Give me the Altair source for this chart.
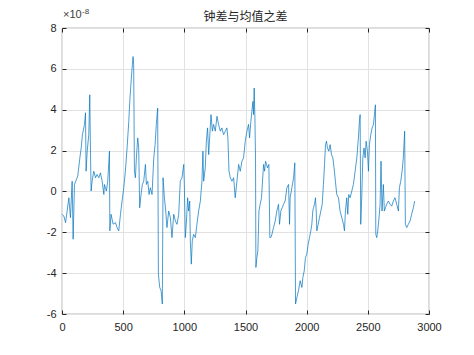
import altair as alt
import pandas as pd

# Epoch index (x) and clock-difference minus mean (units of 1e-8)
xs = [1, 15, 29, 42, 56, 69, 83, 91, 102, 118, 129, 146, 157, 167, 184, 192, 197, 206, 219, 227,
      233, 238, 246, 260, 274, 287, 301, 314, 328, 342, 347, 363, 374, 388, 391, 401, 418, 437, 450, 464,
      478, 491, 505, 518, 532, 546, 554, 565, 573, 581, 586, 592, 600, 608, 619, 627, 635, 646, 657, 668,
      682, 690, 701, 712, 722, 736, 750, 761, 771, 782, 788, 799, 810, 820, 826, 837, 848, 858, 872, 886,
      899, 913, 927, 940, 954, 967, 981, 995, 1000, 1008, 1016, 1027, 1035, 1044, 1049, 1057, 1065, 1076, 1090, 1103,
      1117, 1131, 1144, 1152, 1158, 1171, 1180, 1190, 1199, 1207, 1218, 1229, 1239, 1253, 1267, 1280, 1294, 1307, 1321, 1335,
      1348, 1356, 1365, 1376, 1389, 1403, 1416, 1430, 1444, 1457, 1471, 1484, 1498, 1512, 1525, 1533, 1544, 1552, 1561, 1566,
      1571, 1577, 1582, 1585, 1593, 1601, 1610, 1620, 1631, 1639, 1648, 1656, 1664, 1672, 1680, 1691, 1699, 1707, 1716, 1729,
      1743, 1756, 1770, 1778, 1789, 1800, 1811, 1824, 1838, 1852, 1860, 1865, 1879, 1893, 1903, 1909, 1920, 1933, 1947, 1961,
      1969, 1980, 1990, 2001, 2012, 2023, 2034, 2042, 2050, 2056, 2064, 2072, 2078, 2083, 2094, 2105, 2116, 2127, 2137, 2146,
      2154, 2162, 2170, 2181, 2192, 2203, 2214, 2224, 2235, 2246, 2260, 2273, 2287, 2301, 2309, 2317, 2328, 2336, 2344, 2355,
      2369, 2382, 2396, 2410, 2423, 2431, 2437, 2442, 2450, 2459, 2469, 2478, 2486, 2497, 2505, 2513, 2524, 2535, 2546, 2554,
      2562, 2565, 2573, 2581, 2589, 2600, 2608, 2616, 2627, 2635, 2644, 2654, 2668, 2682, 2695, 2709, 2722, 2736, 2750, 2758,
      2769, 2780, 2790, 2801, 2807, 2818, 2831, 2845, 2858, 2872, 2883]
ys = [-1.12, -1.20, -1.53, -0.96, -0.31, -1.28, 0.50, -2.34, 0.34, 0.59, 0.76, 1.64, 2.13, 2.78, 3.28, 3.85, 0.99, 1.97, 2.78, 4.73,
      1.80, 0.02, 0.50, 0.99, 0.67, 0.83, 0.67, 0.91, 0.50, -0.15, 0.34, 0.02, 0.50, 1.97, -1.93, -1.12, -1.60, -1.53, -1.77, -1.93,
      -1.12, -0.47, 0.18, 0.99, 2.13, 3.43, 4.41, 5.39, 6.04, 6.60, 6.20, 0.99, 0.67, 1.64, 2.62, 2.13, -0.80, -0.15, 0.34, 0.50,
      1.32, 0.34, 0.50, -0.15, 0.18, -0.15, 1.64, 2.29, 3.28, 4.08, -4.05, -4.70, -4.86, -5.51, 0.67, -0.31, -0.96, -1.77, -0.96, -1.28,
      -2.26, -1.12, -1.45, -1.61, -1.12, 0.50, 0.67, 1.32, 0.34, -2.26, -1.61, -0.31, -0.96, -0.47, -2.42, -3.56, -2.42, -2.10, -2.26, -1.61,
      -0.96, -0.47, 0.50, 1.97, 0.50, 1.15, 2.46, 3.11, 1.80, 2.62, 3.76, 2.95, 3.28, 2.95, 3.68, 3.28, 2.95, 3.11, 2.78, 2.95,
      3.11, 2.62, 0.99, 0.67, 0.50, 0.67, -0.31, 0.50, 1.32, 0.99, 1.48, 1.64, 2.46, 2.95, 3.28, 2.62, 3.43, 3.92, 4.41, 3.76,
      5.06, 3.60, 1.64, -3.72, -3.24, -2.91, -0.96, -0.63, -0.31, 0.50, 1.32, 0.99, 1.48, 1.32, 1.15, 1.32, -2.26, -2.26, -2.10, -1.77,
      -1.45, -0.96, -0.63, -1.61, -0.96, -0.80, -0.63, -0.47, 0.18, 0.34, -1.61, -0.31, 0.18, 0.67, 1.40, -5.51, -5.19, -4.86, -4.37, -4.70,
      -4.21, -3.89, -3.24, -3.07, -2.59, -2.26, -1.93, -1.61, -0.96, -0.80, -0.63, -0.31, -0.96, -1.93, -1.61, -1.28, -0.96, -0.63, 0.34, 1.32,
      2.29, 2.46, 2.13, 1.97, 2.29, 1.80, 1.64, 1.15, 0.50, -0.15, -0.31, -0.96, -1.28, -1.61, -1.93, -0.96, -0.31, -1.12, -0.15, -0.31,
      0.02, 0.34, 0.99, 1.64, 2.62, 3.43, 3.76, -1.61, -0.31, 1.64, 2.13, 1.64, 2.46, 1.97, 0.99, 2.29, 2.78, 3.11, 3.28, 3.76,
      4.24, -2.10, -2.26, -1.93, -1.45, -0.63, 1.48, -0.96, 0.34, -0.96, -0.80, -0.63, -0.47, -0.63, -0.72, -0.47, -0.31, -0.63, -0.96, 0.18,
      0.50, 0.99, 1.64, 2.95, -1.61, -1.77, -1.61, -1.45, -1.12, -0.80, -0.47]

x_ticks = [0, 500, 1000, 1500, 2000, 2500, 3000]
y_ticks = [-6, -4, -2, 0, 2, 4, 6, 8]
title_text = "钟差与均值之差"

df = pd.DataFrame({"x": xs, "y": ys})

xscale = alt.Scale(domain=[0, 3000], nice=False, zero=False)
yscale = alt.Scale(domain=[-6, 8], nice=False, zero=False)

lab = dict(labelFont="Liberation Sans", labelFontSize=11, labelColor="#262626",
           labelFlush=False, labelOverlap=False, labelExpr="datum.value + ''")

main = alt.Chart(df).mark_line(color="#0072BD", strokeWidth=0.7).encode(
    x=alt.X("x:Q", scale=xscale, title=None,
            axis=alt.Axis(values=x_ticks, orient="bottom", grid=True, gridColor="#e2e2e2",
                          ticks=False, tickSize=0, domain=False, labelPadding=7, **lab)),
    y=alt.Y("y:Q", scale=yscale, title=None,
            axis=alt.Axis(values=y_ticks, orient="left", grid=True, gridColor="#e2e2e2",
                          ticks=False, tickSize=0, domain=False, labelPadding=6, **lab)),
)

def tick_layer(xo, yo):
    return alt.Chart(df).mark_line(opacity=0).encode(
        x=alt.X("x:Q", scale=xscale, title=None,
                axis=alt.Axis(values=x_ticks, orient=xo, offset=-4, tickSize=4, tickColor="#262626",
                              labels=False, domain=False, grid=False)),
        y=alt.Y("y:Q", scale=yscale, title=None,
                axis=alt.Axis(values=y_ticks, orient=yo, offset=-4, tickSize=4, tickColor="#262626",
                              labels=False, domain=False, grid=False)),
    )

txt_df = pd.DataFrame({"t": ["x"]})
exp_base = alt.Chart(txt_df).mark_text(align="left", baseline="alphabetic", font="Liberation Sans",
                                       fontSize=11, color="#404040").encode(
    x=alt.value(1), y=alt.value(-10), text=alt.value("×10"))
exp_sup = alt.Chart(txt_df).mark_text(align="left", baseline="alphabetic", font="Liberation Sans",
                                      fontSize=8, color="#404040").encode(
    x=alt.value(20), y=alt.value(-14), text=alt.value("-8"))
title = alt.Chart(txt_df).mark_text(align="center", baseline="alphabetic", font="Noto Sans CJK SC",
                                    fontSize=12, color="#262626").encode(
    x=alt.value(183.5), y=alt.value(-7), text=alt.value(title_text))

chart = alt.layer(main, tick_layer("bottom", "left"), tick_layer("top", "right"),
                  exp_base, exp_sup, title).resolve_axis(
    x="independent", y="independent"
).properties(
    width=367, height=286,
    padding={"left": 54, "top": 20, "right": 30, "bottom": 30},
    autosize=alt.AutoSizeParams(type="none"),
).configure_view(stroke="#262626", strokeWidth=0.8)

chart.save("out.html", embed_options={"renderer": "svg", "actions": False})
